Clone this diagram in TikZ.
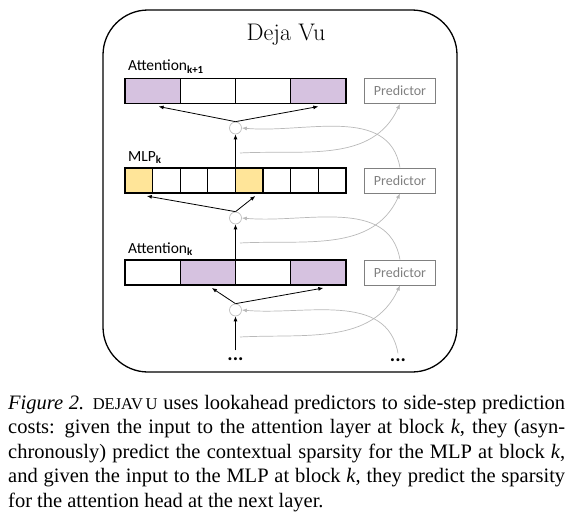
\documentclass[tikz,border=0pt]{standalone}
\usepackage{fontspec}
\usetikzlibrary{positioning,arrows.meta}
\newfontfamily\calibri{Carlito}
\newfontfamily\capfont{Liberation Serif}
\definecolor{attcol}{RGB}{214,194,224}
\definecolor{mlpcol}{RGB}{255,229,153}
\definecolor{predgray}{RGB}{128,128,128}

\tikzset{
  cell/.style={draw, line width=1.2pt, minimum height=25pt, inner sep=0pt, outer sep=0pt},
  wide/.style={cell, minimum width=55.25pt},
  narrow/.style={cell, minimum width=27.62pt},
  pred/.style={draw=predgray, line width=1pt, minimum width=71pt, minimum height=25pt,
    text=predgray, font=\calibri\fontsize{14}{16}\selectfont},
  hub/.style={circle, draw=gray!50, line width=0.7pt, minimum size=12pt, inner sep=0pt},
  lbl/.style={font=\calibri\fontsize{15.5}{18}\selectfont, inner sep=0pt},
  dots/.style={font=\calibri\bfseries\fontsize{20}{20}\selectfont, inner sep=0pt},
  fwd/.style={-{Latex[length=5pt,width=4pt]}, line width=0.8pt},
  side/.style={-{Latex[length=5pt,width=4pt]}, draw=gray!55, line width=0.7pt},
}

\begin{document}
\begin{tikzpicture}[x=1pt, y=1pt]
  \useasboundingbox (0,0) rectangle (572,-525);
  \draw[line width=1.3pt, rounded corners=45pt] (103,-10) rectangle (457,-372);
  \node[font=\fontsize{24}{28}\selectfont] (title) at (286,-35) {Deja Vu};

  % attention at block k+1
  \node[wide, fill=attcol] (a2-1) at (152.6,-91) {};
  \node[wide, right=0pt of a2-1] (a2-2) {};
  \node[wide, right=0pt of a2-2] (a2-3) {};
  \node[wide, fill=attcol, right=0pt of a2-3] (a2-4) {};
  \node[lbl, anchor=base west] (l-a2) at ([xshift=3pt, yshift=8pt]a2-1.north west) {Attention\textsubscript{\textbf{k+1}}};
  \node[pred, right=18pt of a2-4] (pred-a2) {Predictor};

  % mlp at block k
  \node[narrow, fill=mlpcol] (m-1) at (138.8,-180.5) {};
  \node[narrow, right=0pt of m-1] (m-2) {};
  \node[narrow, right=0pt of m-2] (m-3) {};
  \node[narrow, right=0pt of m-3] (m-4) {};
  \node[narrow, fill=mlpcol, right=0pt of m-4] (m-5) {};
  \node[narrow, right=0pt of m-5] (m-6) {};
  \node[narrow, right=0pt of m-6] (m-7) {};
  \node[narrow, right=0pt of m-7] (m-8) {};
  \node[lbl, anchor=base west] (l-m) at ([xshift=3pt, yshift=7pt]m-1.north west) {MLP\textsubscript{\textbf{k}}};
  \node[pred, right=18pt of m-8] (pred-m) {Predictor};

  % attention at block k
  \node[wide] (a1-1) at (152.6,-272.5) {};
  \node[wide, fill=attcol, right=0pt of a1-1] (a1-2) {};
  \node[wide, right=0pt of a1-2] (a1-3) {};
  \node[wide, fill=attcol, right=0pt of a1-3] (a1-4) {};
  \node[lbl, anchor=base west] (l-a1) at ([xshift=3pt, yshift=7pt]a1-1.north west) {Attention\textsubscript{\textbf{k}}};
  \node[pred, right=18pt of a1-4] (pred-a1) {Predictor};

  \node[hub] (hub-a2) at (235.5,-128) {};
  \node[hub] (hub-m) at (235.5,-218) {};
  \node[hub] (hub-a1) at (235.5,-310) {};
  \node[dots] (d-1) at (235.5,-359) {...};
  \node[dots] (d-2) at (398,-360) {...};

  \coordinate (s-a2) at (240,-153);
  \coordinate (s-m) at (240,-243);
  \coordinate (s-a1) at (240,-337);

  % forward path
  \draw[fwd] ([yshift=7pt]d-1.north) -- (hub-a1.south);
  \draw[fwd] (hub-a1.north) -- ([xshift=4pt, yshift=-3pt]a1-2.south);
  \draw[fwd] (hub-a1.north) -- ([xshift=5pt, yshift=-3pt]a1-4.south);
  \draw[fwd] (a1-2.north east) -- (hub-m.south);
  \draw[fwd] (hub-m.north) -- ([xshift=8pt, yshift=-3pt]m-1.south);
  \draw[fwd] (hub-m.north) -- ([xshift=6pt, yshift=-3pt]m-5.south);
  \draw[fwd] (m-4.north east) -- (hub-a2.south);
  \draw[fwd] (hub-a2.north) -- ([xshift=6pt, yshift=-3pt]a2-1.south);
  \draw[fwd] (hub-a2.north) -- ([yshift=-3pt]a2-4.south);

  % lookahead predictors
  \draw[side] (s-a1) to[out=3, in=-115] (pred-a1.south);
  \draw[side] (s-m) to[out=3, in=-115] (pred-m.south);
  \draw[side] (s-a2) to[out=3, in=-115] (pred-a2.south);
  \draw[side] ([yshift=5pt]d-2.north) to[out=100, in=-5] (hub-a1.east);
  \draw[side] (pred-a1.north) to[out=100, in=-5] (hub-m.east);
  \draw[side] (pred-m.north) to[out=100, in=-5] (hub-a2.east);

  \node[anchor=north west, text width=557pt, inner sep=0pt, align=justify,
    font=\capfont\fontsize{20.5}{24.5}\selectfont] (cap) at (8,-395)
    {\textit{Figure 2.} {\fontsize{16.5}{16.5}\selectfont DEJAV\,U} uses lookahead predictors to side-step prediction\linebreak
    costs: given the input to the attention layer at block \textit{k}, they (asyn-\linebreak
    chronously) predict the contextual sparsity for the MLP at block \textit{k},\linebreak
    and given the input to the MLP at block \textit{k}, they predict the sparsity\linebreak
    for the attention head at the next layer.};
\end{tikzpicture}
\end{document}
